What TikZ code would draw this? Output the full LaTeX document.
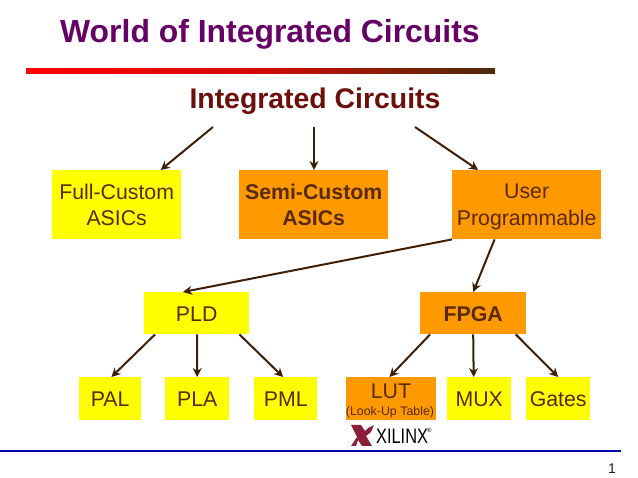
\documentclass[tikz,border=0pt]{standalone}
\usepackage{fontspec}
\setmainfont{Liberation Sans}
\usetikzlibrary{arrows.meta,calc}
\definecolor{ybox}{HTML}{FFFF00}
\definecolor{obox}{HTML}{FF9900}
\definecolor{btext}{HTML}{5A2A06}
\definecolor{ttl}{HTML}{660066}
\definecolor{ictext}{HTML}{6B0F0A}
\definecolor{conn}{HTML}{3D1F08}
\definecolor{rulelow}{HTML}{4A2A0A}
\definecolor{xred}{HTML}{8A1F3A}
\tikzset{
  boxbase/.style={anchor=north west,inner sep=0pt,align=center,text=btext,font=\fontsize{21.3}{26.5}\selectfont},
  ybx/.style={boxbase,fill=ybox},
  obx/.style={boxbase,fill=obox},
  conar/.style={conn,line width=2pt,-{Stealth[length=9pt,width=9pt]}}
}
\newcommand{\sx}{\rule[-3pt]{0pt}{22pt}}
\newcommand{\bx}[7]{\node[#1,minimum width=#4pt,minimum height=#5pt] (#2) at (#3) {#7};}
\begin{document}
\begin{tikzpicture}[x=1pt,y=-1pt]
\useasboundingbox (0,0) rectangle (638,478);
\node[anchor=west,text=ttl,font=\bfseries\fontsize{31.9}{32}\selectfont,inner sep=0pt] (title) at (60,34) {World of Integrated Circuits};
\shade[left color=red,right color=rulelow,middle color=red!75!rulelow] (26,69) rectangle (495,74);
\node[text=ictext,font=\bfseries\fontsize{28.4}{28}\selectfont,inner sep=0pt] (ic) at (315,101) {Integrated Circuits};
\coordinate (ica) at (213,127);
\coordinate (icb) at (314,127);
\coordinate (icc) at (415,127);

\bx{ybx}{full}{52,170}{129}{69}{}{\sx Full-Custom\\\sx ASICs}
\bx{obx}{semi}{239,170}{149}{69}{}{\sx\textbf{Semi-Custom}\\\sx\textbf{ASICs}}
\bx{obx}{user}{452,170}{149}{69}{}{\sx User\\\sx Programmable}
\bx{ybx}{pld}{144,292}{105}{42}{}{\sx PLD}
\bx{obx}{fpga}{420,292}{106}{42}{}{\sx\textbf{FPGA}}
\bx{ybx}{pal}{79,377}{62}{43}{}{\sx PAL}
\bx{ybx}{pla}{165,377}{64}{43}{}{\sx PLA}
\bx{ybx}{pml}{254,377}{63}{43}{}{\sx PML}
\node[boxbase,fill=obox,minimum width=90pt,minimum height=43pt] (lut) at (346,377) {};
\node[text=btext,font=\fontsize{21.3}{21}\selectfont,inner sep=0pt] (luta) at (391,391) {LUT};
\node[text=btext,font=\fontsize{12.4}{12}\selectfont,inner sep=0pt] (lutb) at (390,412) {(Look-Up Table)};
\bx{ybx}{mux}{447,377}{64}{43}{}{\sx MUX}
\bx{ybx}{gates}{526,377}{64}{43}{}{\sx Gates}

\draw[conar] (ica) -- ($(full.north west)!.84!(full.north east)$);
\draw[conar] (icb) -- (semi.north -| icb);
\draw[conar] (icc) -- ($(user.north west)!.175!(user.north east)$);
\draw[conar] (user.south west) -- ($(pld.north west)!.37!(pld.north east)$);
\draw[conar] ($(user.south west)!.285!(user.south east)$) -- ($(fpga.north west)!.5!(fpga.north east)$);
\draw[conar] ($(pld.south west)!.105!(pld.south east)$) -- ($(pal.north west)!.52!(pal.north east)$);
\draw[conar] ($(pld.south west)!.505!(pld.south east)$) -- (pla.north);
\draw[conar] ($(pld.south west)!.905!(pld.south east)$) -- ($(pml.north west)!.46!(pml.north east)$);
\draw[conar] ($(fpga.south west)!.095!(fpga.south east)$) -- ($(lut.north west)!.48!(lut.north east)$);
\draw[conar] ($(fpga.south west)!.5!(fpga.south east)$) -- ($(mux.north west)!.414!(mux.north east)$);
\draw[conar] ($(fpga.south west)!.9!(fpga.south east)$) -- ($(gates.north west)!.5!(gates.north east)$);

% Xilinx logo
\fill[xred] (351,425) -- (361,425) -- (365,431) -- (368,428) -- (374,425) -- (371,432) -- (366,436) -- (372,446) -- (362,446) -- (358,440) -- (356,446) -- (351,446) -- (357,437) -- cycle;
\node[anchor=west,inner sep=0pt,text=black,xscale=.78,transform shape,font=\fontsize{21}{21}\selectfont] (xil) at (376,436) {XILINX};
\node[anchor=west,inner sep=0pt,text=black,font=\fontsize{6}{6}\selectfont] (reg) at (427,430) {®};

\draw[blue!70!black,line width=1.6pt] (0,451) coordinate (ruleA) -- (621,451) coordinate (ruleB);
\node[text=btext!60!black,font=\fontsize{14}{14}\selectfont,inner sep=0pt] (pg) at (612,469) {1};
\end{tikzpicture}
\end{document}
